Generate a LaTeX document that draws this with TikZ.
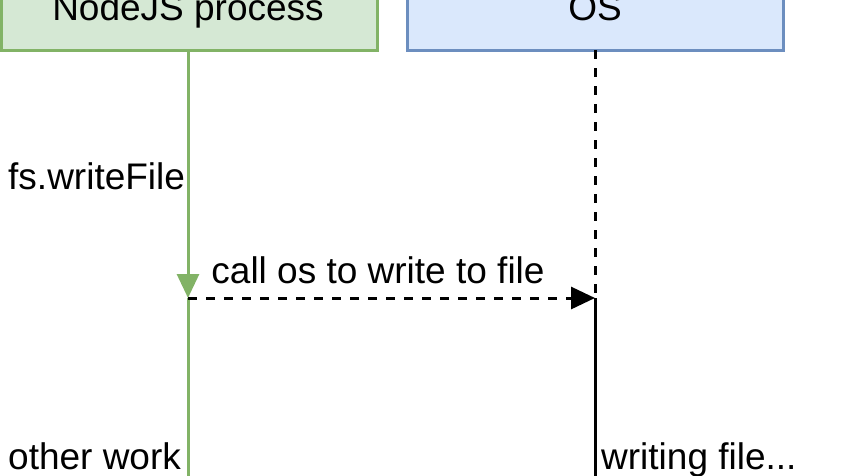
\documentclass[tikz,border=0pt]{standalone}
\usepackage{fontspec}
\setmainfont{Liberation Sans}
\usetikzlibrary{arrows.meta}
\definecolor{gfill}{HTML}{D5E8D4}\definecolor{gline}{HTML}{82B366}
\definecolor{bfill}{HTML}{DAE8FC}\definecolor{bline}{HTML}{6C8EBF}
\begin{document}
\begin{tikzpicture}[x=1pt,y=-1pt,
  lbl/.style={font=\fontsize{37}{44}\selectfont,inner sep=0pt},
  tip/.style={-{Triangle[length=24pt,width=22pt]}}]
\useasboundingbox (0,0) rectangle (846,475);
\path[draw=gline,fill=gfill,line width=3pt] (1,-40) rectangle (377,50);
\path[draw=bline,fill=bfill,line width=3pt] (407,-40) rectangle (783,50);
\node[lbl,anchor=base] (np) at (188,20) {NodeJS process};
\node[lbl,anchor=base] (os) at (595,20) {OS};
\coordinate (g0) at (188,50); \coordinate (g1) at (188,298); \coordinate (g2) at (188,480);
\coordinate (o0) at (595,50); \coordinate (o1) at (595,298); \coordinate (o2) at (595,480);
\draw[gline,line width=3pt,tip] (g0) -- (g1);
\draw[gline,line width=3pt] (g1) -- (g2);
\draw[black,line width=3pt,dash pattern=on 9pt off 9pt] (o0) -- (o1);
\draw[black,line width=3pt] (o1) -- (o2);
\draw[black,line width=3pt,dash pattern=on 9pt off 9pt,tip] (g1) -- (o1);
\node[lbl,anchor=base] (c) at (378,283) {call os to write to file};
\node[lbl,anchor=base west] (fs) at (8,189) {fs.writeFile};
\node[lbl,anchor=base west] (ow) at (8,469) {other work};
\node[lbl,anchor=base west] (wf) at (601,469) {writing file...};
\end{tikzpicture}
\end{document}
